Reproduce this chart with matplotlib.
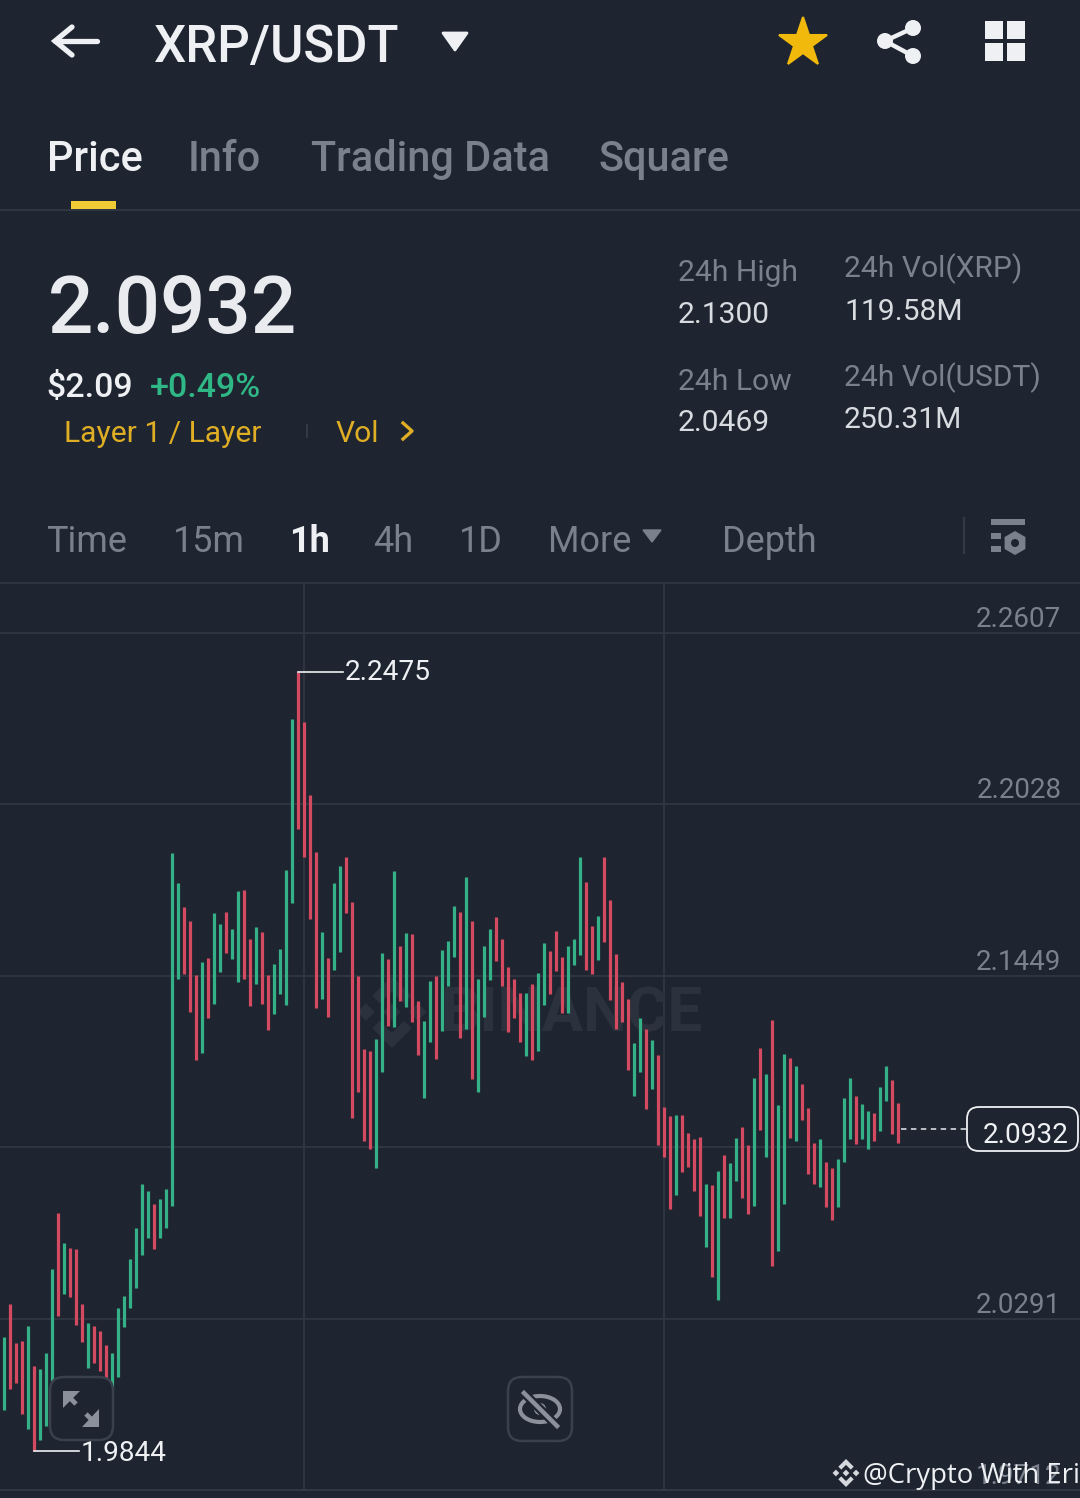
import numpy as np
import matplotlib
matplotlib.use("Agg")
import matplotlib.pyplot as plt
from matplotlib.patches import FancyBboxPatch, Polygon, Circle, Rectangle, Ellipse

high = [2.0229,2.0340,2.0209,2.0215,2.0266,2.0131,2.0121,2.0175,2.0459,2.0647,
        2.0546,2.0529,2.0525,2.0340,2.0276,2.0266,2.0249,2.0202,2.0175,2.0327,
        2.0367,2.0493,2.0596,2.0745,2.0721,2.0677,2.0695,2.0728,2.1864,2.1762,
        2.1681,2.1634,2.1451,2.1495,2.1509,2.1661,2.1624,2.1664,2.1607,2.1735,
        2.1739,2.1573,2.1614,2.1597,2.1451,2.1489,2.1539,2.1807,2.2317,2.2475,
        2.2307,2.2060,2.1867,2.1597,2.1509,2.1762,2.1820,2.1850,2.1698,2.1448,
        2.1201,2.1195,2.1235,2.1526,2.1506,2.1803,2.1550,2.1594,2.1590,2.1364,
        2.1296,2.1431,2.1448,2.1536,2.1566,2.1685,2.1664,2.1783,2.1634,2.1438,
        2.1550,2.1607,2.1647,2.1573,2.1478,2.1438,2.1391,2.1391,2.1421,2.1458,
        2.1560,2.1533,2.1600,2.1512,2.1550,2.1573,2.1850,2.1765,2.1617,2.1651,
        2.1850,2.1705,2.1522,2.1428,2.1371,2.1222,2.1306,2.1269,2.1232,2.1181,
        2.1005,2.0975,2.0978,2.0978,2.0918,2.0897,2.0904,2.0745,2.0742,2.0789,
        2.0843,2.0816,2.0901,2.0938,2.0877,2.1103,2.1205,2.1117,2.1300,2.1012,
        2.1185,2.1171,2.1144,2.1083,2.1002,2.0884,2.0897,2.0820,2.0799,2.0830,
        2.1036,2.1103,2.1043,2.1016,2.0992,2.0985,2.1073,2.1144,2.1097,2.1019]
low = [1.9982,2.0053,2.0073,1.9969,1.9918,1.9844,1.9881,1.9928,2.0080,2.0300,
       2.0374,2.0364,2.0270,2.0212,2.0124,2.0141,2.0114,2.0043,2.0050,2.0094,
       2.0263,2.0327,2.0395,2.0505,2.0563,2.0525,2.0563,2.0596,2.0671,2.1438,
       2.1455,2.1326,2.1164,2.1188,2.1306,2.1354,2.1462,2.1526,2.1506,2.1428,
       2.1438,2.1347,2.1421,2.1354,2.1266,2.1320,2.1387,2.1350,2.1695,2.1945,
       2.1850,2.1641,2.1340,2.1371,2.1310,2.1468,2.1529,2.1661,2.0968,2.1056,
       2.0890,2.0863,2.0799,2.1124,2.1279,2.1276,2.1364,2.1344,2.1293,2.1181,
       2.1036,2.1225,2.1168,2.1262,2.1414,2.1512,2.1238,2.1269,2.1100,2.1056,
       2.1310,2.1435,2.1499,2.1414,2.1259,2.1306,2.1225,2.1178,2.1164,2.1195,
       2.1350,2.1387,2.1465,2.1323,2.1323,2.1485,2.1519,2.1468,2.1455,2.1502,
       2.1563,2.1367,2.1269,2.1293,2.1131,2.1043,2.1124,2.0999,2.1066,2.0877,
       2.0836,2.0661,2.0708,2.0786,2.0803,2.0721,2.0637,2.0532,2.0431,2.0354,
       2.0630,2.0630,2.0755,2.0698,2.0644,2.0671,2.0928,2.0836,2.0469,2.0519,
       2.0677,2.0901,2.0890,2.0962,2.0779,2.0745,2.0735,2.0668,2.0624,2.0668,
       2.0820,2.0897,2.0880,2.0897,2.0863,2.0890,2.0924,2.1026,2.0914,2.0884]
# 1 = rising (green) candle, 0 = falling (red) candle
rising = [1,0,0,0,1,0,1,1,1,0, 1,0,0,0,1,0,0,0,1,1, 1,1,1,1,1,0,1,1,1,1,
          0,0,0,1,0,1,1,0,1,1, 0,0,1,0,0,1,1,1,1,0, 0,0,0,1,0,1,1,0,0,0,
          0,0,1,1,0,1,0,1,0,0, 1,1,0,1,1,1,0,1,0,1, 1,1,0,0,0,0,0,1,0,1,
          1,0,0,0,1,1,1,0,0,1, 0,0,0,0,0,1,1,0,1,0, 0,0,1,0,0,0,0,1,0,1,
          0,1,1,0,0,1,0,1,0,1, 1,0,1,0,0,0,1,0,0,1, 1,1,0,1,1,0,1,1,0,0]
axis_prices = [2.2607, 2.2028, 2.1449, 2.0870, 2.0291, 1.9712]
axis_labels = ["2.2607", "2.2028", "2.1449", "", "2.0291", "1.9712"]
vertical_grid = [50, 110]
last_price = 2.0932

tabs = [("Price", 47), ("Info", 188), ("Trading Data", 311), ("Square", 599)]
periods = [("Time", 46), ("15m", 173), ("1h", 289), ("4h", 373), ("1D", 459), ("More", 548), ("Depth", 722)]

BG = "#1e2530"
GRID = "#333a45"
GRAY = "#7b818c"
WHITE = "#eef0f3"
GREEN = "#34b186"
RED = "#d44a60"
YELLOW = "#e0ae24"
FONT = "Roboto"

W, H = 1080, 1498
fig = plt.figure(figsize=(W / 100, H / 100), dpi=100, facecolor=BG)

# UI layer in pixel coordinates
ui = fig.add_axes([0, 0, 1, 1], zorder=5)
ui.set_xlim(0, W)
ui.set_ylim(H, 0)
ui.axis("off")
ui.patch.set_alpha(0)

# Chart layer
top, bottom = 583, 1490
ax = fig.add_axes([0, 1 - bottom / H, 1, (bottom - top) / H], zorder=1, facecolor=BG)
ax.set_xlim((0 - 4.3) / 6, (W - 4.3) / 6)
ax.set_ylim(1.9712, 2.2607 + 50 / 2960)
ax.yaxis.tick_right()
ax.set_yticks(axis_prices)
ax.set_yticklabels(axis_labels, fontsize=20, color=GRAY, family=FONT, ha="right", va="bottom")
ax.tick_params(axis="y", length=0, pad=-13.5)
ax.set_xticks(vertical_grid)
ax.set_xticklabels([])
ax.tick_params(axis="x", length=0)
ax.grid(True, color=GRID, lw=1.1, zorder=0)
for g in ax.get_ygridlines():
    g.set_clip_on(False)
for s in ("left", "right"):
    ax.spines[s].set_visible(False)
for s in ("top", "bottom"):
    ax.spines[s].set_color(GRID)
    ax.spines[s].set_linewidth(1.1)
ax.set_axisbelow(True)


def px(v):
    return v * 72 / 100


def t(x, y, s, size, color=WHITE, weight="normal", target=None, **kw):
    (target or ui).text(x, y, s, fontsize=px(size), color=color, weight=weight,
                        family=FONT, va="baseline", ha=kw.pop("ha", "left"), **kw)


def logo(cx, cy, r, color, target, transform=None, zorder=1, alpha=1):
    """Binance style mark: four small diamonds and a centre one, chevrons top/bottom."""
    kw = dict(fc=color, ec="none", zorder=zorder, alpha=alpha)
    if transform is not None:
        kw["transform"] = transform
    d = r * 0.24
    for dx, dy in [(0, 0), (-r * 0.72, 0), (r * 0.72, 0)]:
        target.add_patch(Polygon([(cx + dx - d, cy + dy), (cx + dx, cy + dy - d),
                                  (cx + dx + d, cy + dy), (cx + dx, cy + dy + d)], **kw))
    for sign in (-1, 1):
        target.add_patch(Polygon([(cx, cy + sign * r), (cx + r * 0.55, cy + sign * r * 0.45),
                                  (cx + r * 0.34, cy + sign * r * 0.24), (cx, cy + sign * r * 0.58),
                                  (cx - r * 0.34, cy + sign * r * 0.24), (cx - r * 0.55, cy + sign * r * 0.45)], **kw))


# Faint chart watermark, below the candles
ax.text(440, 1031, "BINANCE", transform=ui.transData, fontsize=px(62), weight="bold",
        family=FONT, color="#2b323d", va="baseline", ha="left", zorder=0.8)
logo(392, 1012, 36, "#2b323d", ax, transform=ui.transData, zorder=0.8)

# Candles
x = np.arange(len(high))
colors = [GREEN if r else RED for r in rising]
ax.vlines(x, low, high, colors=colors, linewidth=2.3, capstyle="butt", zorder=3)

# High / low annotations
imax = int(np.argmax(high))
imin = int(np.argmin(low))
ax.plot([imax, imax + 7.5], [high[imax]] * 2, color=WHITE, lw=1.2, zorder=4)
ax.plot([imin, imin + 7.5], [low[imin]] * 2, color=WHITE, lw=1.2, zorder=4)
ax.annotate(f"{high[imax]:.4f}", (imax + 7.7, high[imax]), fontsize=px(28), color=WHITE,
            family=FONT, va="center", ha="left", zorder=4)
ax.annotate(f"{low[imin]:.4f}", (imin + 7.7, low[imin]), xytext=(0, -2), textcoords="offset points",
            fontsize=px(28), color=WHITE, family=FONT, va="center", ha="left", zorder=4)

# Current price line and box
ax.plot([len(high) - 0.5, 160.3], [last_price] * 2, color="#c9ccd2", lw=1.3, dashes=(3, 2.5), zorder=4)
ui.add_patch(FancyBboxPatch((974, 1114), 97, 30, boxstyle="round,pad=7,rounding_size=12",
                            fc=BG, ec=WHITE, lw=1.3))
t(983, 1143, f"{last_price:.4f}", 28)

# Header
ui.plot([55, 97], [41, 41], color=WHITE, lw=3.8, solid_capstyle="round")
ui.plot([72, 55, 72], [27, 41, 55], color=WHITE, lw=3.8, solid_capstyle="round", solid_joinstyle="miter")
t(154, 62, "XRP/USDT", 51, weight="medium")
ui.add_patch(Polygon([(443, 33), (467, 33), (455, 50)], fc=WHITE, ec=WHITE, lw=2, joinstyle="round"))
ui.plot([803], [43], marker="*", ms=37, color="#f0b90b", mec="#f0b90b", mew=1.5)
ui.plot([913, 885, 913], [28, 41, 56], color=WHITE, lw=3.2)
for cx, cy in [(913, 28), (885, 41), (913, 56)]:
    ui.add_patch(Circle((cx, cy), 8, fc=WHITE, ec="none"))
for rx, ry in [(985, 21), (1007, 21), (985, 43), (1007, 43)]:
    ui.add_patch(Rectangle((rx, ry), 18, 18, fc=WHITE, ec="none"))

# Tabs
for i, (name, tx) in enumerate(tabs):
    t(tx, 171, name, 41.5, color=WHITE if i == 0 else GRAY, weight="medium")
ui.add_patch(Rectangle((71, 201), 45, 8, fc="#f0cb35", ec="none"))
ui.plot([0, W], [210, 210], color=GRID, lw=1.2)

# Price block
t(48, 333, "2.0932", 80, color="#e9ebee", weight="medium")
t(46, 397, "$2.09", 34, weight="medium")
t(150, 397, "+0.49%", 34, color="#2fb886", weight="medium")
t(64, 442, "Layer 1 / Layer", 30, color=YELLOW)
ui.plot([307, 307], [425, 437], color=GRID, lw=1.5)
t(336, 442, "Vol", 30, color=YELLOW)
ui.plot([403, 412, 403], [423, 431, 439], color=YELLOW, lw=2.4)

t(678, 281, "24h High", 30, color=GRAY)
t(678, 323, "2.1300", 30, color="#d8dbe0")
t(678, 390, "24h Low", 30, color=GRAY)
t(678, 431, "2.0469", 30, color="#d8dbe0")
t(844, 277, "24h Vol(XRP)", 30, color=GRAY)
t(844, 320, "119.58M", 30, color="#d8dbe0")
t(844, 386, "24h Vol(USDT)", 30, color=GRAY)
t(844, 428, "250.31M", 30, color="#d8dbe0")

# Period row
for name, tx in periods:
    if name == "1h":
        t(tx, 552, name, 36, weight="bold")
    else:
        t(tx, 552, name, 36, color=GRAY)
ui.add_patch(Polygon([(643, 530), (661, 530), (652, 542)], fc=GRAY, ec=GRAY, lw=1))
ui.plot([964, 964], [518, 553], color=GRID, lw=1.6)
ui.add_patch(Rectangle((991, 519), 34, 6, fc=GRAY, ec="none"))
ui.add_patch(Rectangle((991, 533), 10, 6, fc=GRAY, ec="none"))
ui.add_patch(Rectangle((991, 546), 10, 6, fc=GRAY, ec="none"))
ang = np.deg2rad(np.arange(30, 390, 60))
ui.add_patch(Polygon(np.c_[1015 + 12 * np.cos(ang), 543 + 12 * np.sin(ang)], fc=GRAY, ec="none"))
ui.add_patch(Circle((1015, 543), 4, fc=BG, ec="none"))

# Floating buttons
BTN = "#3a414c"
ICON = "#8b909b"
ui.add_patch(FancyBboxPatch((60, 1387), 43, 43, boxstyle="round,pad=10,rounding_size=14",
                            fc=BG, ec=BTN, lw=1.8))
ui.add_patch(Polygon([(63, 1391), (80, 1391), (63, 1408)], fc=ICON, ec="none"))
ui.add_patch(Polygon([(99, 1427), (99, 1409), (82, 1427)], fc=ICON, ec="none"))
ui.plot([70, 92], [1398, 1420], color=ICON, lw=3.4)
ui.plot([78, 84], [1406, 1412], color=BG, lw=4)
ui.add_patch(FancyBboxPatch((518, 1387), 44, 44, boxstyle="round,pad=10,rounding_size=14",
                            fc=BG, ec=BTN, lw=1.8))
ui.add_patch(Ellipse((540, 1409), 40, 26, fc="none", ec=ICON, lw=3))
ui.add_patch(Circle((540, 1409), 6, fc=ICON, ec="none"))
ui.plot([524, 557], [1393, 1426], color=BG, lw=6.5)
ui.plot([524, 557], [1393, 1426], color=ICON, lw=3.2)

# Overlaid attribution
logo(846, 1473, 14, "#d5d8dc", ui)
ui.text(863, 1483, "@Crypto With Erik", fontsize=px(27.5), color=WHITE, family="Open Sans",
        va="baseline", ha="left")

fig.savefig("out.png", dpi=100, facecolor=BG)
